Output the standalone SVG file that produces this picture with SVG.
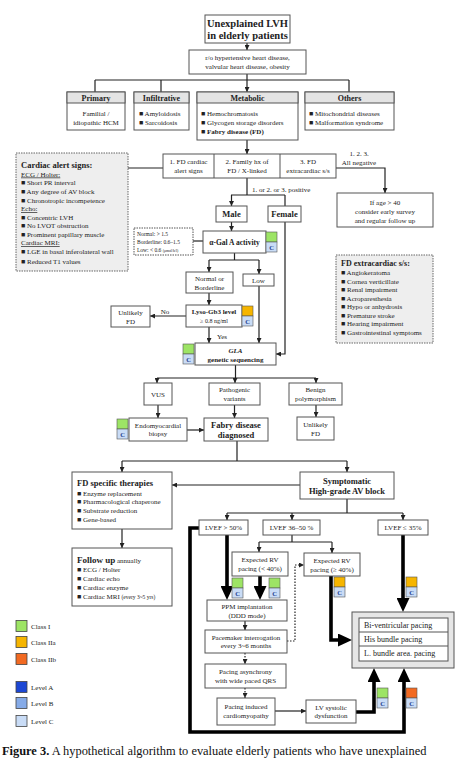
<svg xmlns="http://www.w3.org/2000/svg" xmlns:xlink="http://www.w3.org/1999/xlink" width="474" height="758" viewBox="0 0 474 758">
<style>
.bx{fill:#fff;stroke:#555;stroke-width:1}
.hd{fill:#e4e4e4;stroke:#555;stroke-width:1}
.dsh{fill:#eeeeee;stroke:#555;stroke-width:0.9;stroke-dasharray:1.5,1}
.t{font-family:"Liberation Serif","Times New Roman",serif;font-size:7px;fill:#222}
.m{text-anchor:middle}
.b{font-weight:bold}
.u{text-decoration:underline}
.ln{stroke:#222;stroke-width:1.2;fill:none}
.dt{stroke:#222;stroke-width:1.2;fill:none;stroke-dasharray:1.5,1.5}
.th{stroke:#000;stroke-width:3.6;fill:none}
.lg{stroke:#444;stroke-width:0.8}
</style>
<defs>
<marker id="a" viewBox="0 0 10 10" refX="10" refY="5" markerWidth="5" markerHeight="5" orient="auto" markerUnits="userSpaceOnUse"><path d="M0,0L10,5L0,10z" fill="#222"/></marker>
<marker id="A" viewBox="0 0 14 13" refX="0" refY="6.5" markerWidth="14" markerHeight="13" orient="auto" markerUnits="userSpaceOnUse"><path d="M0,0L14,6.5L0,13z" fill="#000"/></marker>
<g id="bI"><rect width="11" height="10" fill="#9de465" stroke="#555" stroke-width="0.6"/><rect y="10" width="11" height="10" fill="#c9dcf6" stroke="#555" stroke-width="0.6"/><text x="5.5" y="17.5" class="t m b" style="font-size:6.5px;fill:#1a3a8a">C</text></g>
<g id="bIIa"><rect width="11" height="10" fill="#f6b500" stroke="#555" stroke-width="0.6"/><rect y="10" width="11" height="10" fill="#c9dcf6" stroke="#555" stroke-width="0.6"/><text x="5.5" y="17.5" class="t m b" style="font-size:6.5px;fill:#1a3a8a">C</text></g>
<g id="bIIb"><rect width="11" height="10" fill="#f26a22" stroke="#555" stroke-width="0.6"/><rect y="10" width="11" height="10" fill="#c9dcf6" stroke="#555" stroke-width="0.6"/><text x="5.5" y="17.5" class="t m b" style="font-size:6.5px;fill:#1a3a8a">C</text></g>
</defs>
<rect width="474" height="758" fill="#fff"/>

<g id="connectors">
<path class="ln" d="M247,43V50" marker-end="url(#a)"/>
<path class="ln" d="M247,74V80M95,80H349M95,80V92M161,80V92M349,80V92"/>
<path class="ln" d="M247,80V92" marker-end="url(#a)"/>
<path class="ln" d="M247,140V154" marker-end="url(#a)"/>
<path class="ln" d="M128,168H163"/>
<path class="ln" d="M336,168H385V193" marker-end="url(#a)"/>
<path class="ln" d="M247,178V195M231,195H285"/>
<path class="ln" d="M231.5,195V206" marker-end="url(#a)"/>
<path class="ln" d="M285,195V206"/>
<path class="ln" d="M285,222V354H276" marker-end="url(#a)"/>
<path class="ln" d="M231.5,222V231" marker-end="url(#a)"/>
<path class="ln" d="M193,241H203"/>
<path class="ln" d="M234.5,253V260M209,260H259"/>
<path class="ln" d="M209,260V272" marker-end="url(#a)"/>
<path class="ln" d="M259,260V274" marker-end="url(#a)"/>
<path class="ln" d="M209,293V305" marker-end="url(#a)"/>
<path class="ln" d="M186,316H150" marker-end="url(#a)"/>
<path class="ln" d="M209,327V343" marker-end="url(#a)"/>
<path class="ln" d="M259,286V343" marker-end="url(#a)"/>
<path class="ln" d="M235.5,365V378M157,378H316"/>
<path class="ln" d="M157,378V383" marker-end="url(#a)"/>
<path class="ln" d="M235,378V383" marker-end="url(#a)"/>
<path class="ln" d="M316,378V383" marker-end="url(#a)"/>
<path class="ln" d="M158,405V418" marker-end="url(#a)"/>
<path class="ln" d="M187,430H204" marker-end="url(#a)"/>
<path class="ln" d="M234.5,405V418" marker-end="url(#a)"/>
<path class="ln" d="M316,405V417" marker-end="url(#a)"/>
<path class="ln" d="M237,441V461M122,461H347"/>
<path class="ln" d="M122,461V472" marker-end="url(#a)"/>
<path class="ln" d="M347,461V472" marker-end="url(#a)"/>
<path class="ln" d="M300,485H172" marker-end="url(#a)"/>
<path class="ln" d="M122,529V548" marker-end="url(#a)"/>
<path class="ln" d="M347,499V513M227,513H403"/>
<path class="ln" d="M227,513V520" marker-end="url(#a)"/>
<path class="ln" d="M292,513V520" marker-end="url(#a)"/>
<path class="ln" d="M403,513V520" marker-end="url(#a)"/>
<path class="ln" d="M292,535V542M259,542H332"/>
<path class="ln" d="M259,542V552" marker-end="url(#a)"/>
<path class="ln" d="M332,542V553" marker-end="url(#a)"/>
<path class="ln" d="M245,621V630" marker-end="url(#a)"/>
<path class="dt" d="M245,653V664" marker-end="url(#a)"/>
<path class="dt" d="M245,688V698" marker-end="url(#a)"/>
<path class="ln" d="M275,711H306" marker-end="url(#a)"/>
<path class="dt" d="M287,641H295V565H304" marker-end="url(#a)"/>
<path class="th" d="M199,528H190V732H404V682" marker-end="url(#A)"/>
<path class="th" d="M227,535V586" marker-end="url(#A)"/>
<path class="th" d="M260,576V586" marker-end="url(#A)"/>
<path class="th" d="M331,576V640H338" marker-end="url(#A)"/>
<path class="th" d="M403,535V598" marker-end="url(#A)"/>
<path class="th" d="M356,712H374V682" marker-end="url(#A)"/>
</g>

<g id="n-title"><rect class="bx" x="205" y="15" width="85" height="28"/><text class="t m b" x="247.5" y="27" style="font-size:10.5px">Unexplained LVH</text><text class="t m b" x="247.5" y="39" style="font-size:10.5px">in elderly patients</text></g>
<g id="n-ro"><rect class="bx" x="189" y="50" width="117" height="24"/><text class="t m" x="247.5" y="60">r/o hypertensive heart disease,</text><text class="t m" x="247.5" y="69">valvular heart disease, obesity</text></g>

<g id="n-primary"><rect class="bx" x="67" y="92" width="58" height="38"/><rect class="hd" x="67" y="92" width="58" height="11"/><text class="t m b" x="96" y="100.5" style="font-size:8px">Primary</text><text class="t m" x="96" y="116">Familial /</text><text class="t m" x="96" y="124.5">idiopathic HCM</text></g>
<g id="n-infil"><rect class="bx" x="134" y="92" width="55" height="38"/><rect class="hd" x="134" y="92" width="55" height="11"/><text class="t m b" x="161.5" y="100.5" style="font-size:8px">Infiltrative</text><text class="t" x="139" y="116">■ Amyloidosis</text><text class="t" x="139" y="124.5">■ Sarcoidosis</text></g>
<g id="n-metab"><rect class="bx" x="197" y="92" width="101" height="48"/><rect class="hd" x="197" y="92" width="101" height="11"/><text class="t m b" x="247.5" y="100.5" style="font-size:8px">Metabolic</text><text class="t" x="201" y="116">■ Hemochromatosis</text><text class="t" x="201" y="124.5">■ Glycogen storage disorders</text><text class="t b" x="201" y="133.5">■ Fabry disease (FD)</text></g>
<g id="n-others"><rect class="bx" x="305" y="92" width="89" height="38"/><rect class="hd" x="305" y="92" width="89" height="11"/><text class="t m b" x="349.5" y="100.5" style="font-size:8px">Others</text><text class="t" x="309" y="116">■ Mitochondrial diseases</text><text class="t" x="309" y="124.5">■ Malformation syndrome</text></g>

<g id="n-alert"><rect class="dsh" x="16" y="153" width="112" height="118"/>
<text class="t b" x="21" y="168" style="font-size:8.5px">Cardiac alert signs:</text>
<text class="t u" x="21" y="176.5">ECG / Holter:</text>
<text class="t" x="21" y="185">■ Short PR interval</text>
<text class="t" x="21" y="193.5">■ Any degree of AV block</text>
<text class="t" x="21" y="202.5">■ Chronotropic incompetence</text>
<text class="t u" x="21" y="211">Echo:</text>
<text class="t" x="21" y="219.5">■ Concentric LVH</text>
<text class="t" x="21" y="228">■ No LVOT obstruction</text>
<text class="t" x="21" y="236.5">■ Prominent papillary muscle</text>
<text class="t u" x="21" y="245">Cardiac MRI:</text>
<text class="t" x="21" y="254">■ LGE in basal inferolateral wall</text>
<text class="t" x="21" y="263.5">■ Reduced T1 values</text></g>

<g id="n-three"><rect class="bx" x="163" y="154" width="173" height="24"/><path d="M214,154V178M280,154V178" stroke="#555" stroke-width="1"/>
<text class="t m" x="188.5" y="164">1. FD cardiac</text><text class="t m" x="188.5" y="173">alert signs</text>
<text class="t m" x="247" y="164">2. Family hx of</text><text class="t m" x="247" y="173">FD / X-linked</text>
<text class="t m" x="308" y="164">3. FD</text><text class="t m" x="308" y="173">extracardiac s/s</text></g>
<g id="l-neg"><text class="t m" x="359" y="156">1.  2.  3.</text><text class="t m" x="359" y="164.5">All negative</text></g>
<g id="l-pos"><text class="t" x="252" y="191.5">1. or  2. or 3. positive</text></g>
<g id="n-age"><rect class="bx" x="337" y="193" width="96" height="34"/><text class="t m" x="385" y="204.5">If age &gt; 40</text><text class="t m" x="385" y="213.5">consider early survey</text><text class="t m" x="385" y="222.5">and regular follow up</text></g>

<g id="n-male"><rect class="bx" x="216" y="206" width="31" height="16"/><text class="t m b" x="231.5" y="217" style="font-size:8.5px">Male</text></g>
<g id="n-female"><rect class="bx" x="268" y="206" width="33" height="16"/><text class="t m b" x="284.5" y="217" style="font-size:8.5px">Female</text></g>

<g id="n-ref"><rect class="bx" x="134" y="228" width="59" height="27" style="stroke-dasharray:1.5,1"/><text class="t" x="137" y="236" style="font-size:5.5px">Normal: &gt; 1.5</text><text class="t" x="137" y="244" style="font-size:5.5px">Borderline: 0.6–1.5</text><text class="t" x="137" y="252" style="font-size:5.5px">Low: &lt; 0.6 <tspan style="font-size:3.8px">(μmol/h/l)</tspan></text></g>
<g id="n-agal"><rect class="bx" x="203" y="231" width="63" height="22"/><text class="t m b" x="234.5" y="244.5" style="font-size:7.5px">α-Gal A activity</text><use xlink:href="#bI" x="266" y="232"/></g>
<g id="n-normal"><rect class="bx" x="186" y="272" width="47" height="21"/><text class="t m" x="209.5" y="281">Normal or</text><text class="t m" x="209.5" y="289.5">Borderline</text></g>
<g id="n-low"><rect class="bx" x="243" y="274" width="31" height="12"/><text class="t m" x="258.5" y="282.5">Low</text></g>
<g id="n-lyso"><rect class="bx" x="186" y="305" width="56" height="22"/><text class="t m b" x="214" y="314">Lyso-Gb3 level</text><text class="t m" x="214" y="323" style="font-size:6px">≥ 0.8 ng/ml</text><use xlink:href="#bIIa" x="242" y="306"/></g>
<g id="l-no"><text class="t m" x="165" y="313.5">No</text></g>
<g id="n-unl1"><rect class="bx" x="111" y="306" width="39" height="21"/><text class="t m" x="130.5" y="315">Unlikely</text><text class="t m" x="130.5" y="324">FD</text></g>
<g id="l-yes"><text class="t m" x="222" y="338.5">Yes</text></g>
<g id="n-gla"><use xlink:href="#bI" x="183" y="344"/><rect class="bx" x="195" y="343" width="81" height="22"/><text class="t m b" x="235.5" y="352.5"><tspan font-style="italic">GLA</tspan></text><text class="t m b" x="235.5" y="362">genetic sequencing</text></g>

<g id="n-extra"><rect class="dsh" x="336" y="255" width="97" height="88"/>
<text class="t b" x="341" y="266" style="font-size:8px">FD extracardiac s/s:</text>
<text class="t" x="341" y="275">■ Angiokeratoma</text>
<text class="t" x="341" y="283.5">■ Cornea verticillate</text>
<text class="t" x="341" y="292">■ Renal impairment</text>
<text class="t" x="341" y="300.5">■ Acroparesthesia</text>
<text class="t" x="341" y="309">■ Hypo or anhydrosis</text>
<text class="t" x="341" y="317.5">■ Premature stroke</text>
<text class="t" x="341" y="326">■ Hearing impairment</text>
<text class="t" x="341" y="334.5">■ Gastrointestinal symptoms</text></g>

<g id="n-vus"><rect class="bx" x="144" y="383" width="28" height="22"/><text class="t m" x="158" y="396.5">VUS</text></g>
<g id="n-path"><rect class="bx" x="209" y="383" width="51" height="22"/><text class="t m" x="234.5" y="392">Pathogenic</text><text class="t m" x="234.5" y="400.5">variants</text></g>
<g id="n-benign"><rect class="bx" x="289" y="383" width="53" height="22"/><text class="t m" x="315.5" y="392">Benign</text><text class="t m" x="315.5" y="400.5">polymorphism</text></g>
<g id="n-biopsy"><use xlink:href="#bI" x="117" y="419"/><rect class="bx" x="129" y="418" width="58" height="23"/><text class="t m" x="158" y="427.5">Endomyocardial</text><text class="t m" x="158" y="436">biopsy</text></g>
<g id="n-fabry"><rect class="bx" x="204" y="418" width="64" height="23"/><text class="t m b" x="236" y="427.5" style="font-size:8.5px">Fabry disease</text><text class="t m b" x="236" y="437.5" style="font-size:8.5px">diagnosed</text></g>
<g id="n-unl2"><rect class="bx" x="297" y="417" width="37" height="23"/><text class="t m" x="315.5" y="426.5">Unlikely</text><text class="t m" x="315.5" y="435.5">FD</text></g>

<g id="n-ther"><rect class="bx" x="72" y="472" width="100" height="57"/><text class="t b" x="77" y="486" style="font-size:8.5px">FD specific therapies</text><text class="t" x="77" y="495.5">■ Enzyme replacement</text><text class="t" x="77" y="504">■ Pharmacological chaperone</text><text class="t" x="77" y="512.5">■ Substrate reduction</text><text class="t" x="77" y="521.5">■ Gene-based</text></g>
<g id="n-follow"><rect class="bx" x="72" y="548" width="100" height="58"/><text class="t" x="77" y="563"><tspan class="b" style="font-size:9px">Follow up</tspan> annually</text><text class="t" x="77" y="571.5">■ ECG / Holter</text><text class="t" x="77" y="580.5">■ Cardiac echo</text><text class="t" x="77" y="589.5">■ Cardiac enzyme</text><text class="t" x="77" y="598.5">■ Cardiac MRI <tspan style="font-size:5.5px">(every 3~5 yrs)</tspan></text></g>
<g id="n-symp"><rect class="bx" x="300" y="472" width="94" height="27"/><text class="t m b" x="347" y="483.5" style="font-size:8.5px">Symptomatic</text><text class="t m b" x="347" y="494" style="font-size:8.5px">High-grade AV block</text></g>

<g id="n-lvef1"><rect class="bx" x="199" y="520" width="49" height="15"/><text class="t m" x="223.5" y="530">LVEF &gt; 50%</text></g>
<g id="n-lvef2"><rect class="bx" x="263" y="520" width="57" height="15"/><text class="t m" x="291.5" y="530">LVEF 36–50 %</text></g>
<g id="n-lvef3"><rect class="bx" x="378" y="520" width="50" height="15"/><text class="t m" x="403" y="530">LVEF ≤ 35%</text></g>
<g id="n-rv1"><rect class="bx" x="232" y="552" width="56" height="24"/><text class="t m" x="260" y="562">Expected RV</text><text class="t m" x="260" y="571">pacing (&lt; 40%)</text></g>
<g id="n-rv2"><rect class="bx" x="304" y="553" width="56" height="23"/><text class="t m" x="332" y="563">Expected RV</text><text class="t m" x="332" y="572">pacing (≥ 40%)</text></g>
<g id="badges"><use xlink:href="#bI" x="232" y="578"/><use xlink:href="#bI" x="269" y="578"/><use xlink:href="#bIIa" x="334" y="577"/><use xlink:href="#bIIa" x="406" y="577"/><use xlink:href="#bI" x="377" y="688"/><use xlink:href="#bIIb" x="406" y="688"/></g>
<g id="n-ppm"><rect class="bx" x="207" y="600" width="80" height="21"/><text class="t m" x="247" y="609">PPM implantation</text><text class="t m" x="247" y="618">(DDD mode)</text></g>
<g id="n-interr"><rect class="bx" x="205" y="630" width="82" height="23"/><text class="t m" x="246" y="639.5">Pacemaker interrogation</text><text class="t m" x="246" y="648">every 3~6 months</text></g>
<g id="n-async"><rect class="bx" x="205" y="664" width="81" height="24"/><text class="t m" x="245.5" y="673.5">Pacing asynchrony</text><text class="t m" x="245.5" y="682.5">with wide paced QRS</text></g>
<g id="n-pic"><rect class="bx" x="217" y="698" width="58" height="27"/><text class="t m" x="246" y="709">Pacing induced</text><text class="t m" x="246" y="718">cardiomyopathy</text></g>
<g id="n-lvsd"><rect class="bx" x="306" y="700" width="50" height="23"/><text class="t m" x="331" y="709.5">LV systolic</text><text class="t m" x="331" y="718">dysfunction</text></g>
<g id="n-pacing"><rect x="352" y="612" width="102" height="56" fill="#e6e6e6" stroke="#555" stroke-width="1"/><rect class="bx" x="359" y="618" width="89" height="43"/><path d="M359,632H448M359,646H448" stroke="#555" stroke-width="1"/><text class="t" x="364" y="628" style="font-size:8px">Bi-ventricular pacing</text><text class="t" x="364" y="642" style="font-size:8px">His bundle pacing</text><text class="t" x="364" y="656" style="font-size:8px">L. bundle area. pacing</text></g>

<g id="legend">
<rect class="lg" x="16" y="620.5" width="11" height="11" fill="#9de465"/><text class="t" x="31" y="628.5">Class I</text>
<rect class="lg" x="16" y="636.5" width="11" height="11" fill="#f6b500"/><text class="t" x="31" y="644.5">Class IIa</text>
<rect class="lg" x="16" y="653.5" width="11" height="11" fill="#f26a22"/><text class="t" x="31" y="661.5">Class IIb</text>
<rect class="lg" x="16" y="681.5" width="11" height="11" fill="#1c47d4"/><text class="t" x="31" y="689.5">Level A</text>
<rect class="lg" x="16" y="697.5" width="11" height="11" fill="#86abe8"/><text class="t" x="31" y="705.5">Level B</text>
<rect class="lg" x="16" y="715.5" width="11" height="11" fill="#c9dcf6"/><text class="t" x="31" y="723.5">Level C</text>
</g>
<g id="caption"><text class="t" x="2" y="754.5" style="font-size:12.4px;fill:#111"><tspan class="b">Figure 3.</tspan> A hypothetical algorithm to evaluate elderly patients who have unexplained</text></g>
</svg>
